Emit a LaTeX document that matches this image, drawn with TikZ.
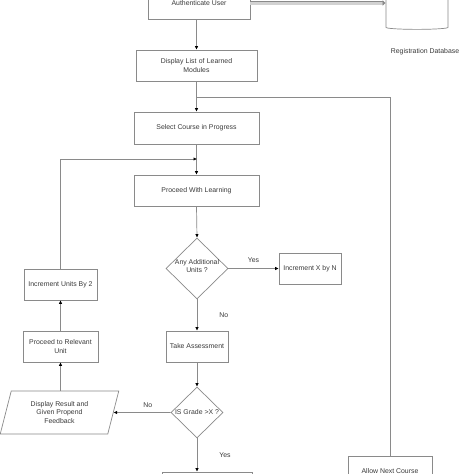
\documentclass[tikz,border=0pt]{standalone}
\usepackage{fontspec}
\setmainfont{Liberation Sans}
\usetikzlibrary{shapes.geometric,arrows.meta}
\definecolor{ln}{HTML}{8A8A8A}
\definecolor{tx}{HTML}{3A3A3A}
\begin{document}
\begin{tikzpicture}[x=1pt,y=-1pt,
  font=\fontsize{6.9}{8.2}\selectfont, text=tx,
  box/.style={draw=ln, line width=0.7pt, rectangle, align=center, inner sep=1pt},
  dia/.style={draw=ln, line width=0.7pt, diamond, align=center, inner sep=0pt},
  con/.style={draw=ln, line width=0.7pt},
  arr/.style={con, -{Latex[length=3.5pt,width=3.5pt,color=black]}},
  lbl/.style={inner sep=0pt}]
\useasboundingbox (0,0) rectangle (474,474);
\clip (0,0) rectangle (474,474);
\fill[white] (0,0) rectangle (474,474);

\node[box, minimum width=102pt, minimum height=32pt] (auth) at (199,3) {Authenticate User};
\node[cylinder, shape border rotate=90, draw=ln, line width=0.7pt, aspect=0.6,
      minimum width=62pt, minimum height=64pt] (db) at (417,-1) {};
\node[lbl] (dblbl) at (425,52) {Registration Database};

\node[box, minimum width=121pt, minimum height=31pt, text width=115pt] (disp) at (196.5,65.5) {Display List of Learned\\Modules};
\node[box, minimum width=125pt, minimum height=32pt] (sel) at (196.5,128) {Select Course in Progress};
\node[box, minimum width=125pt, minimum height=31pt] (proc) at (196.5,190.5) {Proceed With Learning};
\node[dia, minimum width=62pt, minimum height=61pt] (any) at (197,268.5) {};
\node[lbl, align=center] at (197,266) {Any Additional\\Units ?};
\node[box, minimum width=62pt, minimum height=31pt] (incx) at (310,268.5) {Increment X by N};
\node[box, minimum width=62pt, minimum height=31pt] (take) at (197,346.5) {Take Assessment};
\node[box, minimum width=73pt, minimum height=31pt] (incu) at (60.5,284.5) {Increment Units By 2};
\node[box, minimum width=75pt, minimum height=31pt] (prel) at (60.5,346.5) {Proceed to Relevant\\Unit};
\node[dia, minimum width=52pt, minimum height=51pt] (grade) at (197,412.5) {};
\node[lbl] at (197,412.5) {IS Grade >X ?};
\node[trapezium, trapezium left angle=73, trapezium right angle=107, trapezium stretches=true,
      draw=ln, line width=0.7pt, align=center, minimum width=119pt, minimum height=43pt, inner sep=0pt]
      (para) at (59.5,412.5) {Display Result and\\Given Propend\\Feedback};
\node[box, minimum width=90pt, minimum height=30pt] (last) at (207,487) {};
\node[box, minimum width=84pt, minimum height=30pt] (allow) at (390,471) {Allow Next Course};

% connectors
\coordinate (j1) at (197,97);
\coordinate (j2) at (197,159);
\draw[con, double=gray!35, double distance=3pt, -{Latex[length=3pt,width=6pt,color=ln]}] (auth.east) -- (auth.east -| db.west);
\draw[arr] (disp.north |- auth.south) -- (disp.north);
\draw[arr] (disp.south) -- (sel.north);
\draw[con] (allow.north) |- (j1);
\draw[arr] (sel.south) -- (proc.north);
\draw[arr] (incu.north) |- (j2);
\draw[arr] (proc.south) -- (any.north);
\draw[arr] (any.east) -- node[lbl, above=6pt] {Yes} (incx.west);
\draw[arr] (any.south) -- node[lbl, right=22pt] {No} (take.north);
\draw[arr] (take.south) -- (grade.north);
\draw[arr] (grade.west) -- node[lbl, above=5pt, pos=0.4] {No} (para.east);
\draw[arr] (para.north -| prel.south) -- (prel.south);
\draw[arr] (prel.north) -- (incu.south);
\draw[arr] (grade.south) -- node[lbl, right=22pt, pos=0.5] {Yes} (last.north -| grade.south);
\end{tikzpicture}
\end{document}
